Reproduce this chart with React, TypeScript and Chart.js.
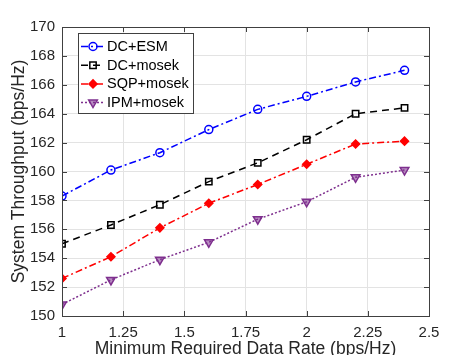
import React, { useEffect, useRef } from 'react';
import { Chart, registerables } from 'chart.js';

Chart.register(...registerables);

// ---- Data ----
const xValues = [1, 1.2, 1.4, 1.6, 1.8, 2.0, 2.2, 2.4];
const dcEsm = [158.3, 160.1, 161.3, 162.9, 164.3, 165.2, 166.2, 167.0];
const dcMosek = [155.0, 156.3, 157.7, 159.3, 160.6, 162.2, 164.0, 164.4];
const sqpMosek = [152.6, 154.1, 156.1, 157.8, 159.1, 160.5, 161.9, 162.1];
const ipmMosek = [150.8, 152.5, 153.9, 155.1, 156.7, 157.9, 159.6, 160.1];
const seriesNames = ['DC+ESM', 'DC+mosek', 'SQP+mosek', 'IPM+mosek'];
const xTicks = [1, 1.25, 1.5, 1.75, 2, 2.25, 2.5];
const yTicks = [150, 152, 154, 156, 158, 160, 162, 164, 166, 168, 170];
const xTitle = 'Minimum Required Data Rate (bps/Hz)';
const yTitle = 'System Throughput (bps/Hz)';

const FONT = '"Liberation Sans", Arial, Helvetica, sans-serif';
const TEXT = '#262626';

type Style = {
  color: string;
  fill: string;
  dash: number[];
  marker: 'circle' | 'rect' | 'rectRot' | 'triangle';
  rotation: number;
  radius: number;
};

const styles: Style[] = [
  { color: '#0000ff', fill: 'rgba(0,0,0,0)', dash: [7, 3, 2, 3], marker: 'circle', rotation: 0, radius: 4 },
  { color: '#000000', fill: 'rgba(0,0,0,0)', dash: [7, 5], marker: 'rect', rotation: 0, radius: 4.5 },
  { color: '#ff0000', fill: '#ff0000', dash: [7, 3, 2, 3], marker: 'rectRot', rotation: 0, radius: 4 },
  { color: '#7e2f8e', fill: 'rgba(126,47,142,0.55)', dash: [2, 2], marker: 'triangle', rotation: 180, radius: 5 },
];

const seriesData = [dcEsm, dcMosek, sqpMosek, ipmMosek];

function drawMarker(ctx: CanvasRenderingContext2D, s: Style, x: number, y: number) {
  ctx.save();
  ctx.setLineDash([]);
  ctx.strokeStyle = s.color;
  ctx.fillStyle = s.fill;
  ctx.lineWidth = 1.5;
  ctx.beginPath();
  const r = s.radius;
  if (s.marker === 'circle') {
    ctx.arc(x, y, r, 0, Math.PI * 2);
  } else if (s.marker === 'rect') {
    const h = r * Math.SQRT1_2;
    ctx.rect(x - h, y - h, 2 * h, 2 * h);
  } else if (s.marker === 'rectRot') {
    ctx.moveTo(x, y - r);
    ctx.lineTo(x + r, y);
    ctx.lineTo(x, y + r);
    ctx.lineTo(x - r, y);
    ctx.closePath();
  } else {
    // downward triangle
    const a = r;
    ctx.moveTo(x - a * 0.866, y - a * 0.5);
    ctx.lineTo(x + a * 0.866, y - a * 0.5);
    ctx.lineTo(x, y + a);
    ctx.closePath();
  }
  ctx.fill();
  ctx.stroke();
  ctx.restore();
}

const framePlugin = {
  id: 'matlabFrame',
  afterDraw(chart: any) {
    const { ctx, chartArea } = chart;
    const { left, right, top, bottom } = chartArea;
    const xs = chart.scales.x;
    const ys = chart.scales.y;
    ctx.save();
    ctx.strokeStyle = '#404040';
    ctx.lineWidth = 1;
    ctx.setLineDash([]);
    ctx.strokeRect(Math.round(left) + 0.5, Math.round(top) + 0.5, Math.round(right - left), Math.round(bottom - top));
    const tl = 5;
    ctx.beginPath();
    xTicks.forEach((v) => {
      const px = Math.round(xs.getPixelForValue(v)) + 0.5;
      ctx.moveTo(px, bottom);
      ctx.lineTo(px, bottom - tl);
      ctx.moveTo(px, top);
      ctx.lineTo(px, top + tl);
    });
    yTicks.forEach((v) => {
      const py = Math.round(ys.getPixelForValue(v)) + 0.5;
      ctx.moveTo(left, py);
      ctx.lineTo(left + tl, py);
      ctx.moveTo(right, py);
      ctx.lineTo(right - tl, py);
    });
    ctx.stroke();

    // legend
    const bx = 78.5, by = 33.5, bw = 115, bh = 80;
    ctx.fillStyle = '#ffffff';
    ctx.fillRect(bx, by, bw, bh);
    ctx.strokeStyle = '#404040';
    ctx.strokeRect(bx, by, bw, bh);
    ctx.font = `14.5px ${FONT}`;
    ctx.textBaseline = 'middle';
    ctx.textAlign = 'left';
    seriesNames.forEach((name, i) => {
      const s = styles[i];
      const y = 46.5 + i * 18.7;
      ctx.save();
      ctx.strokeStyle = s.color;
      ctx.lineWidth = 1.5;
      ctx.setLineDash(s.dash);
      ctx.beginPath();
      ctx.moveTo(81, y);
      ctx.lineTo(105, y);
      ctx.stroke();
      ctx.restore();
      drawMarker(ctx, s, 93, y);
      ctx.fillStyle = '#000000';
      ctx.fillText(name, 107, y + 0.5);
    });
    ctx.restore();
  },
};

export default function App() {
  const ref = useRef<HTMLCanvasElement | null>(null);

  useEffect(() => {
    if (!ref.current) return;
    const chart = new Chart(ref.current, {
      type: 'line',
      data: {
        datasets: seriesNames.map((name, i) => ({
          label: name,
          data: xValues.map((x, j) => ({ x, y: seriesData[i][j] })),
          borderColor: styles[i].color,
          backgroundColor: styles[i].fill,
          borderWidth: 1.5,
          borderDash: styles[i].dash,
          pointStyle: styles[i].marker,
          rotation: styles[i].rotation,
          pointRadius: styles[i].radius,
          pointBorderWidth: 1.5,
          pointBorderColor: styles[i].color,
          pointBackgroundColor: styles[i].fill,
          tension: 0,
          fill: false,
        })),
      },
      options: {
        responsive: false,
        animation: false,
        events: [],
        layout: { padding: { left: 0, top: 27, right: 45, bottom: 0 } },
        plugins: {
          legend: { display: false },
          tooltip: { enabled: false },
          title: { display: false },
        },
        scales: {
          x: {
            type: 'linear',
            min: 1,
            max: 2.5,
            afterBuildTicks: (s: any) => {
              s.ticks = xTicks.map((v) => ({ value: v }));
            },
            afterFit: (s: any) => {
              s.height = 39;
            },
            grid: { color: '#e3e3e3', drawTicks: false, lineWidth: 1 },
            border: { display: false },
            ticks: {
              padding: 8,
              color: TEXT,
              font: { family: FONT, size: 15 },
              maxRotation: 0,
              autoSkip: false,
              callback: (v: any) => String(v),
            },
            title: {
              display: true,
              text: xTitle,
              color: TEXT,
              font: { family: FONT, size: 17.5 },
              padding: { top: 0, bottom: -4.5 },
            },
          },
          y: {
            type: 'linear',
            min: 150,
            max: 170,
            afterBuildTicks: (s: any) => {
              s.ticks = yTicks.map((v) => ({ value: v }));
            },
            afterFit: (s: any) => {
              s.width = 62;
            },
            grid: { color: '#e3e3e3', drawTicks: false, lineWidth: 1 },
            border: { display: false },
            ticks: {
              padding: 7,
              color: TEXT,
              font: { family: FONT, size: 15 },
              autoSkip: false,
              callback: (v: any) => String(v),
            },
            title: {
              display: true,
              text: yTitle,
              color: TEXT,
              font: { family: FONT, size: 17.5 },
              padding: { top: 8.5, bottom: 0 },
            },
          },
        },
      },
      plugins: [framePlugin],
    } as any);
    return () => chart.destroy();
  }, []);

  return (
    <div style={{ position: 'fixed', left: 0, top: 0, width: 474, height: 355, background: '#ffffff' }}>
      <canvas ref={ref} width={474} height={355} style={{ width: 474, height: 355, display: 'block' }} />
    </div>
  );
}
